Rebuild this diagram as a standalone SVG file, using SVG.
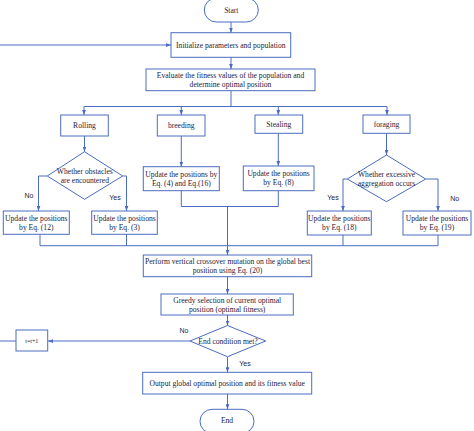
<svg xmlns="http://www.w3.org/2000/svg" width="474" height="431" viewBox="0 0 474 431">
<style>
.b{fill:#fff;stroke:#4a6cc0;stroke-width:1}
.c{fill:none;stroke:#4a6cc0;stroke-width:1}
.t{font-family:"Liberation Serif","Times New Roman",serif;font-size:7.6px;fill:#1c2340;text-anchor:middle}
.l{font-family:"Liberation Sans",Arial,sans-serif;font-size:7px;fill:#1c2340;text-anchor:middle}
</style>
<defs>
<marker id="a" viewBox="0 0 8 6" refX="8" refY="3" markerWidth="5" markerHeight="4" markerUnits="userSpaceOnUse" orient="auto">
<path d="M0,0 L8,3 L0,6 z" fill="#4a6cc0"/>
</marker>
</defs>
<rect width="474" height="431" fill="#fff"/>
<g id="connectors" class="c">
<path d="M231,22 V32.7" marker-end="url(#a)"/>
<path d="M0,45 H171" marker-end="url(#a)"/>
<path d="M231,57.3 V69" marker-end="url(#a)"/>
<path d="M231,91 V106.5"/>
<path d="M84,106.5 H387"/>
<path d="M84,106.5 V115" marker-end="url(#a)"/>
<path d="M181.3,106.5 V115" marker-end="url(#a)"/>
<path d="M278.3,106.5 V115" marker-end="url(#a)"/>
<path d="M387,106.5 V115" marker-end="url(#a)"/>
<path d="M84.5,136 V151.7" marker-end="url(#a)"/>
<path d="M47.3,176 H38.5 V211" marker-end="url(#a)"/>
<path d="M122.7,176 H126.5 V211" marker-end="url(#a)"/>
<path d="M181.3,136 V166.7" marker-end="url(#a)"/>
<path d="M278.3,133.3 V166" marker-end="url(#a)"/>
<path d="M386.5,133.3 V155" marker-end="url(#a)"/>
<path d="M347.3,179 H343 V211" marker-end="url(#a)"/>
<path d="M425.7,179 H438 V211" marker-end="url(#a)"/>
<path d="M181.3,190.7 V206.5 H278.3 V190.7"/>
<path d="M227.5,206.5 V255" marker-end="url(#a)"/>
<path d="M40,234.3 V245.7 H438 V235"/>
<path d="M126.5,234.3 V245.7"/>
<path d="M343,235 V245.7"/>
<path d="M227.5,276.7 V294" marker-end="url(#a)"/>
<path d="M227.5,315 V325.5" marker-end="url(#a)"/>
<path d="M190,341 H48" marker-end="url(#a)"/>
<path d="M16,341 H0"/>
<path d="M227.5,356.7 V372.3" marker-end="url(#a)"/>
<path d="M227.5,394 V409.3" marker-end="url(#a)"/>
</g>
<g id="start"><rect class="b" x="204.3" y="-2" width="54" height="24" rx="12"/><text class="t" x="231.3" y="12.5">Start</text></g>
<g id="init"><rect class="b" x="171" y="32.7" width="119.7" height="24.6"/><text class="t" x="230.8" y="47.5">Initialize parameters and population</text></g>
<g id="evaluate"><rect class="b" x="146" y="69" width="169" height="21.7"/><text class="t" x="230.5" y="77.5">Evaluate the fitness values of the population and</text><text class="t" x="230.5" y="86.5">determine optimal position</text></g>
<g id="rolling"><rect class="b" x="60.7" y="115" width="47.6" height="21"/><text class="t" x="84.5" y="128">Rolling</text></g>
<g id="breeding"><rect class="b" x="157.3" y="115" width="47.7" height="21"/><text class="t" x="181.2" y="128">breeding</text></g>
<g id="stealing"><rect class="b" x="255" y="115" width="47.7" height="18.3"/><text class="t" x="278.8" y="126.5">Stealing</text></g>
<g id="foraging"><rect class="b" x="363" y="115" width="47" height="18.3"/><text class="t" x="386.5" y="126.5">foraging</text></g>
<g id="obstacles"><polygon class="b" points="84.5,151.7 122.7,176 84.5,199.3 47.3,176"/><text class="t" x="84.8" y="173.5">Whether obstacles</text><text class="t" x="84.8" y="182.5">are encountered</text></g>
<g id="aggregation"><polygon class="b" points="386.5,155 425.7,179 386.5,201.7 347.3,179"/><text class="t" x="386.5" y="176.5">Whether excessive</text><text class="t" x="386.5" y="185.5">aggregation occurs</text></g>
<g id="upd4_16"><rect class="b" x="143.3" y="166.7" width="76" height="24"/><text class="t" x="181.3" y="176.5">Update the positions by</text><text class="t" x="181.3" y="185.5">Eq. (4) and Eq.(16)</text></g>
<g id="upd8"><rect class="b" x="243.3" y="166" width="70.7" height="24.7"/><text class="t" x="278.6" y="176">Update the positions</text><text class="t" x="278.6" y="185">by Eq. (8)</text></g>
<g id="upd12"><rect class="b" x="3.3" y="211" width="66" height="23.3"/><text class="t" x="36.3" y="220.5">Update the positions</text><text class="t" x="36.3" y="229.5">by Eq. (12)</text></g>
<g id="upd3"><rect class="b" x="91.7" y="211" width="65.6" height="23.3"/><text class="t" x="124.5" y="220.5">Update the positions</text><text class="t" x="124.5" y="229.5">by Eq. (3)</text></g>
<g id="upd18"><rect class="b" x="307.3" y="211" width="64" height="24"/><text class="t" x="339.3" y="220.5">Update the positions</text><text class="t" x="339.3" y="229.5">by Eq. (18)</text></g>
<g id="upd19"><rect class="b" x="403" y="211" width="68" height="24"/><text class="t" x="437" y="220.5">Update the positions</text><text class="t" x="437" y="229.5">by Eq. (19)</text></g>
<g id="perform"><rect class="b" x="143.3" y="255" width="168.4" height="21.7"/><text class="t" x="227.5" y="263.5">Perform vertical crossover mutation on the global best</text><text class="t" x="227.5" y="272.5">position using Eq. (20)</text></g>
<g id="greedy"><rect class="b" x="161" y="294" width="132.3" height="21"/><text class="t" x="227.2" y="302.5">Greedy selection of current optimal</text><text class="t" x="227.2" y="311.5">position (optimal fitness)</text></g>
<g id="endcond"><polygon class="b" points="227.5,325.5 265.7,341 227.5,356.7 190,341"/><text class="t" x="228" y="343.8">End condition met?</text></g>
<g id="tinc"><rect class="b" x="16" y="330" width="31.7" height="21"/><text class="t" x="31.8" y="343" style="font-size:6px">t=t+1</text></g>
<g id="output"><rect class="b" x="142.7" y="372.3" width="169" height="21.7"/><text class="t" x="227.2" y="385.8">Output global optimal position and its fitness value</text></g>
<g id="end"><rect class="b" x="200" y="409.3" width="54" height="24" rx="12"/><text class="t" x="227" y="423">End</text></g>
<g id="labels">
<text class="l" x="29" y="197.5">No</text>
<text class="l" x="115" y="200">Yes</text>
<text class="l" x="333" y="199.5">Yes</text>
<text class="l" x="454.7" y="200.5">No</text>
<text class="l" x="184" y="333">No</text>
<text class="l" x="245" y="365.5">Yes</text>
</g>
</svg>
